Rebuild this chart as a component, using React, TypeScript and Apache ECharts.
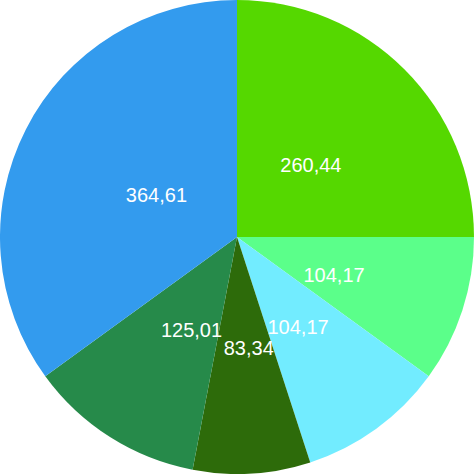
import { useEffect, useRef } from "react";
import * as echarts from "echarts";

const names = ["A", "B", "C", "D", "E", "F"];
const values = [260.44, 104.17, 104.17, 83.34, 125.01, 364.61];
const colors = ["#55d800", "#5bff8a", "#72ecff", "#2d6b0a", "#268a4a", "#339bee"];
// label nudges (px) to match reference placement
const labelOffsets: Array<[number, number]> = [[-2, 4], [-5, 5], [-2, 3], [5, 4], [12, 2], [15, 7]];

const fmt = (v: number): string => v.toFixed(2).replace(".", ",");

export default function App(): JSX.Element {
  const ref = useRef<HTMLDivElement | null>(null);

  useEffect(() => {
    document.body.style.margin = "0";
    const el = ref.current;
    if (!el) return;
    const chart = echarts.init(el, undefined, { renderer: "svg" });
    chart.setOption({
      animation: false,
      series: [
        {
          type: "pie",
          center: ["50%", "50%"],
          radius: "100%",
          startAngle: 90,
          clockwise: true,
          silent: true,
          label: { show: false },
          labelLine: { show: false },
          data: values.map((v, i) => ({
            name: names[i],
            value: v,
            itemStyle: { color: colors[i] },
          })),
        },
        {
          type: "pie",
          center: ["50%", "50%"],
          radius: "88%",
          startAngle: 90,
          clockwise: true,
          silent: true,
          itemStyle: { color: "rgba(0,0,0,0)" },
          label: {
            show: true,
            position: "inside",
            color: "#ffffff",
            fontFamily: "Liberation Sans, Arial, sans-serif",
            fontSize: 20,
            fontWeight: "normal",
            textBorderWidth: 0,
            textShadowBlur: 0,
            formatter: (p: { value: number }) => fmt(p.value),
          },
          labelLine: { show: false },
          data: values.map((v, i) => ({
            name: names[i],
            value: v,
            label: { offset: labelOffsets[i] },
          })),
        },
      ],
    });
    return () => chart.dispose();
  }, []);

  return <div ref={ref} style={{ width: 474, height: 474 }} />;
}
